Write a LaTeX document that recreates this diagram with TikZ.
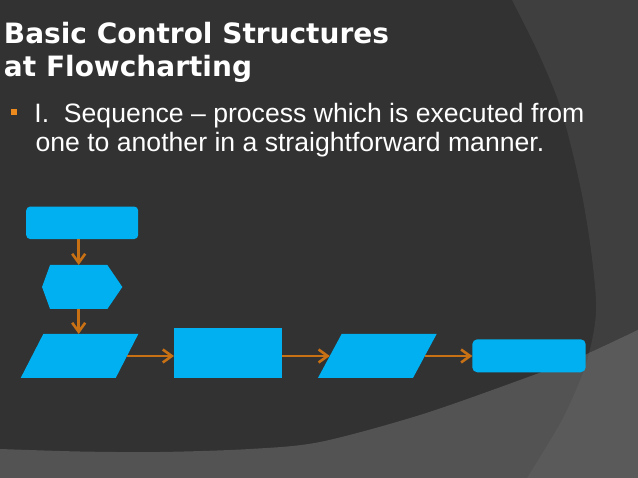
\documentclass[tikz,border=0pt]{standalone}
\usepackage{fontspec}
\setmainfont{Liberation Sans}
\newfontfamily\titlefont{DejaVu Sans}
\usetikzlibrary{arrows.meta}
\definecolor{bgc}{HTML}{323232}
\definecolor{trc}{HTML}{3F3F3F}
\definecolor{bandc}{HTML}{535353}
\definecolor{interc}{HTML}{5A5A5A}
\definecolor{shapec}{HTML}{00B0F0}
\definecolor{arrowc}{HTML}{C87014}
\definecolor{bulletc}{HTML}{EC8A1E}
\begin{document}
\begin{tikzpicture}[x=1pt,y=-1pt,
  flowbox/.style={fill=shapec, draw=none, inner sep=0pt, outer sep=0pt},
  ghost/.style={inner sep=0pt, outer sep=0pt},
  conn/.style={draw=arrowc, line width=2.6pt, -{Straight Barb[length=9pt,width=13pt]}},
  titletext/.style={inner sep=0pt, outer sep=0pt, anchor=base west, text=white, font=\titlefont\bfseries\fontsize{28}{33}\selectfont},
  bodytext/.style={inner sep=0pt, outer sep=0pt, anchor=base west, text=white, font=\fontsize{26.6}{30}\selectfont}]
\useasboundingbox (0,0) rectangle (638,478);
% background
\fill[bgc] (0,0) rectangle (638,478);
\fill[trc] plot[smooth] coordinates {(512,0) (537,50) (558,100) (572,150) (583,200) (591,250) (596,300) (594,330) (584,370) (562,420) (527,478)} -- (638,478) -- (638,0) -- cycle;
\fill[bandc] plot[smooth] coordinates {(0,449) (80,451.5) (160,452) (250,449) (320,442) (420,415) (520,380) (580,357) (638,330)} -- (638,478) -- (0,478) -- cycle;
\begin{scope}
\clip plot[smooth] coordinates {(0,449) (80,451.5) (160,452) (250,449) (320,442) (420,415) (520,380) (580,357) (638,330)} -- (638,478) -- (0,478) -- cycle;
\fill[interc] plot[smooth] coordinates {(512,0) (537,50) (558,100) (572,150) (583,200) (591,250) (596,300) (594,330) (584,370) (562,420) (527,478)} -- (638,478) -- (638,0) -- cycle;
\end{scope}
% texts
\node[titletext] (t1) at (4,43.5) {Basic Control Structures};
\node[titletext] (t2) at (4,76.8) {at Flowcharting};
\node[fill=bulletc, minimum size=5.7pt, inner sep=0pt] (bul) at (13.8,112) {};
\node[bodytext] (b1) at (34.4,122.3) {I.\ \ Sequence – process which is executed from};
\node[bodytext] (b2) at (35.6,151.7) {one to another in a straightforward manner.};
% shapes
\node[flowbox, rounded corners=4pt, minimum width=112pt, minimum height=32.5pt] (start) at (82.2,222.8) {};
\node[ghost, minimum width=57.3pt, minimum height=44pt] (hex) at (78.7,287) {};
\fill[shapec] (hex.north west) -- (hex.north east) -- ([xshift=15pt]hex.east) -- (hex.south east) -- (hex.south west) -- ([xshift=-8pt]hex.west) -- cycle;
\node[ghost, minimum width=95pt, minimum height=44pt] (in1) at (79.5,356) {};
\fill[shapec] ([xshift=11.3pt]in1.north west) -- ([xshift=11.3pt]in1.north east) -- ([xshift=-11.3pt]in1.south east) -- ([xshift=-11.3pt]in1.south west) -- cycle;
\node[flowbox, minimum width=108pt, minimum height=50pt] (proc) at (228,353) {};
\node[ghost, minimum width=95pt, minimum height=44pt] (out1) at (377.3,356) {};
\fill[shapec] ([xshift=11.85pt]out1.north west) -- ([xshift=11.85pt]out1.north east) -- ([xshift=-11.85pt]out1.south east) -- ([xshift=-11.85pt]out1.south west) -- cycle;
\node[flowbox, rounded corners=5pt, minimum width=113.4pt, minimum height=33pt] (stop) at (529,355.8) {};
% connectors
\draw[conn] (hex.north |- start.south) -- (hex.north);
\draw[conn] (hex.south) -- (hex.south |- in1.north);
\draw[conn] (in1.east) -- (in1.east -| proc.west);
\draw[conn] (proc.east |- out1.west) -- (out1.west);
\draw[conn] (out1.east) -- (out1.east -| stop.west);
\end{tikzpicture}
\end{document}
